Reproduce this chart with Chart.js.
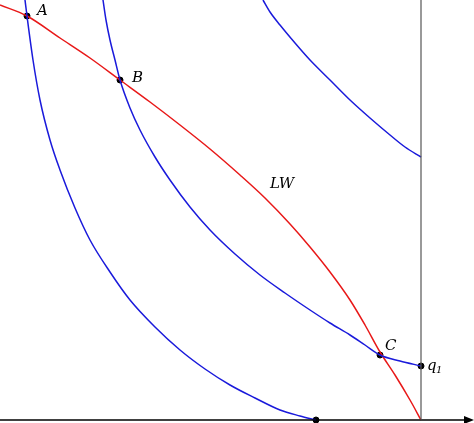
<!DOCTYPE html><html><head><style>body{margin:0;background:#fff}</style>
<script src="https://cdn.jsdelivr.net/npm/chart.js@4/dist/chart.umd.min.js"></script></head><body>
<canvas id="c" width="474" height="423"></canvas>
<script>
const curve1X=[25,27,33,40,50,60,75,90,110,130,155,180,205,230,255,280,300,316];
const curve1Y=[0,16,60,100,140,170,208,240,272,300,327,350,369,385,398,410,416,420];
const curve2X=[103,106,110,115,120,130,140,155,170,190,210,235,260,285,310,330,350,365,380,400,421];
const curve2Y=[0,20,40,60,80,108,130,157,180,207,230,254,275,293,310,323,335,345,355,361,366];
const curve3X=[263,270,280,295,310,330,350,370,390,405,421];
const curve3Y=[0,12,25,43,60,80,100,118,135,147,157];
const redX=[0,27,60,90,120,150,180,210,240,265,290,310,330,350,365,380,395,410,421];
const redY=[5,16,38,58,80,102,125,149,175,198,224,247,272,300,325,352,375,400,420];
const pointX=[27,120,380,421,316];
const pointY=[16,80,355,366,420];
const labels=[["A",37,11],["B",132,78],["C",385,346],["LW",270,184],["q",427,366]];
const zip=(a,b)=>a.map((x,i)=>({x,y:b[i]}));
const line=(d,c,w)=>({type:'line',data:d,borderColor:c,borderWidth:w||1.5,pointRadius:0,fill:false,cubicInterpolationMode:'monotone'});
new Chart(document.getElementById('c'),{
 type:'scatter',
 data:{datasets:[
  line([{x:421,y:0},{x:421,y:420}],'#555',1.2),
  line([{x:0,y:420},{x:466,y:420}],'#000',1.5),
  line(zip(curve1X,curve1Y),'#1a1adb'),
  line(zip(curve2X,curve2Y),'#1a1adb'),
  line(zip(curve3X,curve3Y),'#1a1adb'),
  line(zip(redX,redY),'#e81818'),
  {type:'scatter',data:zip(pointX,pointY),pointRadius:3,pointBackgroundColor:'#000',borderColor:'#000'}
 ]},
 options:{responsive:false,animation:false,devicePixelRatio:1,layout:{padding:0,autoPadding:false},
  plugins:{legend:{display:false},tooltip:{enabled:false}},
  scales:{x:{type:'linear',min:0,max:474,display:false},y:{type:'linear',min:0,max:423,reverse:true,display:false}}},
 plugins:[{id:'txt',afterDraw(ch){const c=ch.ctx,xs=ch.scales.x,ys=ch.scales.y;c.save();
  c.fillStyle='#000';c.beginPath();const ax=xs.getPixelForValue(474),ay=ys.getPixelForValue(420);
  c.moveTo(ax,ay);c.lineTo(ax-10,ay-4);c.lineTo(ax-10,ay+4);c.fill();
  c.font='italic 15px "DejaVu Serif","Liberation Serif",serif';c.textBaseline='middle';
  labels.forEach(([t,x,y])=>c.fillText(t,xs.getPixelForValue(x),ys.getPixelForValue(y)));
  c.font='italic 10px "DejaVu Serif",serif';c.fillText('1',xs.getPixelForValue(436),ys.getPixelForValue(370));
  c.restore();}}]
});
</script></body></html>
